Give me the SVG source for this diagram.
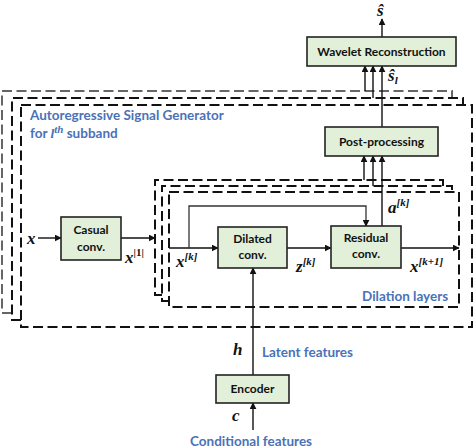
<svg xmlns="http://www.w3.org/2000/svg" width="474" height="448" viewBox="0 0 474 448">
<defs>
<marker id="ah" viewBox="0 0 10 10" refX="9" refY="5" markerWidth="7" markerHeight="7" markerUnits="userSpaceOnUse" orient="auto"><path d="M0,0 L10,5 L0,10 z" fill="#111"/></marker>
<style>
.box{fill:#e2efd9;stroke:#222;stroke-width:1.6}
.lbl{font-family:Lato,"Liberation Sans",sans-serif;font-weight:bold;font-size:12px;fill:#111;text-anchor:middle}
.blue{font-family:Lato,"Liberation Sans",sans-serif;font-weight:bold;font-size:13.5px;fill:#4a72b8}
.math{font-family:"Liberation Serif",serif;font-style:italic;font-weight:bold;font-size:17px;fill:#111}
.sup{font-size:11px}
.dash{fill:none;stroke:#111;stroke-width:2;stroke-dasharray:10,4.5}
.edge{stroke:#666}
.ln{fill:none;stroke:#111;stroke-width:1.4}
.skip{fill:none;stroke:#333;stroke-width:1.3}
</style>
</defs>
<rect width="474" height="448" fill="#fff"/>
<g id="frames">
<path class="dash edge" d="M12,313 H2 V91 H452 V98"/>
<path class="dash" d="M21,320 H12 V98 H463 V105"/>
<rect class="dash" x="21" y="105" width="451" height="222"/>
<path class="dash" d="M162,295 H155 V180 H443 V186"/>
<path class="dash" d="M169,301 H162 V186 H452 V192"/>
<rect class="dash" x="169" y="192" width="290" height="115"/>
</g>
<g id="connectors">
<path class="ln" d="M382,37 V19" marker-end="url(#ah)"/>
<path class="ln" d="M382,127 V66" marker-end="url(#ah)"/>
<path class="ln" d="M365,91 V66" marker-end="url(#ah)"/>
<path class="ln" d="M373,98 V66" marker-end="url(#ah)"/>
<path class="ln" d="M382,226 V156" marker-end="url(#ah)"/>
<path class="ln" d="M364,180 V156" marker-end="url(#ah)"/>
<path class="ln" d="M373,186 V156" marker-end="url(#ah)"/>
<path class="ln" d="M38,238 H61" marker-end="url(#ah)"/>
<path class="ln" d="M121,238 H155" marker-end="url(#ah)"/>
<path class="ln" d="M169,248 H218" marker-end="url(#ah)"/>
<path class="skip" d="M189,248 V206 H366 V226" marker-end="url(#ah)"/>
<path class="ln" d="M287,248 H331" marker-end="url(#ah)"/>
<path class="ln" d="M401,248 H459" marker-end="url(#ah)"/>
<path class="ln" d="M253,375 V268" marker-end="url(#ah)"/>
<path class="ln" d="M253,430 V403" marker-end="url(#ah)"/>
</g>
<g id="wavelet">
<rect class="box" x="307" y="37" width="149" height="29"/>
<text class="lbl" x="381.5" y="55.5">Wavelet Reconstruction</text>
</g>
<g id="post">
<rect class="box" x="325" y="127" width="113" height="29"/>
<text class="lbl" x="381.5" y="145.5">Post-processing</text>
</g>
<g id="casual">
<rect class="box" x="61" y="217" width="60" height="43"/>
<text class="lbl" x="91" y="234">Casual</text>
<text class="lbl" x="91" y="251">conv.</text>
</g>
<g id="dilated">
<rect class="box" x="218" y="227" width="69" height="41"/>
<text class="lbl" x="252.5" y="243">Dilated</text>
<text class="lbl" x="252.5" y="259">conv.</text>
</g>
<g id="residual">
<rect class="box" x="331" y="226" width="70" height="42"/>
<text class="lbl" x="366" y="242">Residual</text>
<text class="lbl" x="366" y="258">conv.</text>
</g>
<g id="encoder">
<rect class="box" x="216" y="375" width="73" height="28"/>
<text class="lbl" x="252.5" y="393">Encoder</text>
</g>
<g id="labels">
<text class="blue" x="30" y="120">Autoregressive Signal Generator</text>
<text class="blue" x="30" y="138">for <tspan font-family="Liberation Serif,serif" font-style="italic">l</tspan><tspan class="sup" dy="-5" font-family="Liberation Serif,serif" font-style="italic">th</tspan><tspan dy="5"> subband</tspan></text>
<text class="blue" x="362" y="301">Dilation layers</text>
<text class="blue" x="262" y="357">Latent features</text>
<text class="blue" x="190" y="446">Conditional features</text>
<text class="math" x="377" y="16">ŝ</text>
<text class="math" x="388" y="81">ŝ<tspan class="sup" dy="3">l</tspan></text>
<text class="math" x="27" y="244">x</text>
<text class="math" x="125" y="263">x<tspan class="sup" dy="-7" font-style="normal">|1|</tspan></text>
<text class="math" x="176" y="267">x<tspan class="sup" dy="-7">[k]</tspan></text>
<text class="math" x="296" y="272">z<tspan class="sup" dy="-7">[k]</tspan></text>
<text class="math" x="410" y="272">x<tspan class="sup" dy="-7">[k+1]</tspan></text>
<text class="math" x="388" y="213">a<tspan class="sup" dy="-7">[k]</tspan></text>
<text class="math" x="233" y="355">h</text>
<text class="math" x="232" y="421">c</text>
</g>
</svg>
